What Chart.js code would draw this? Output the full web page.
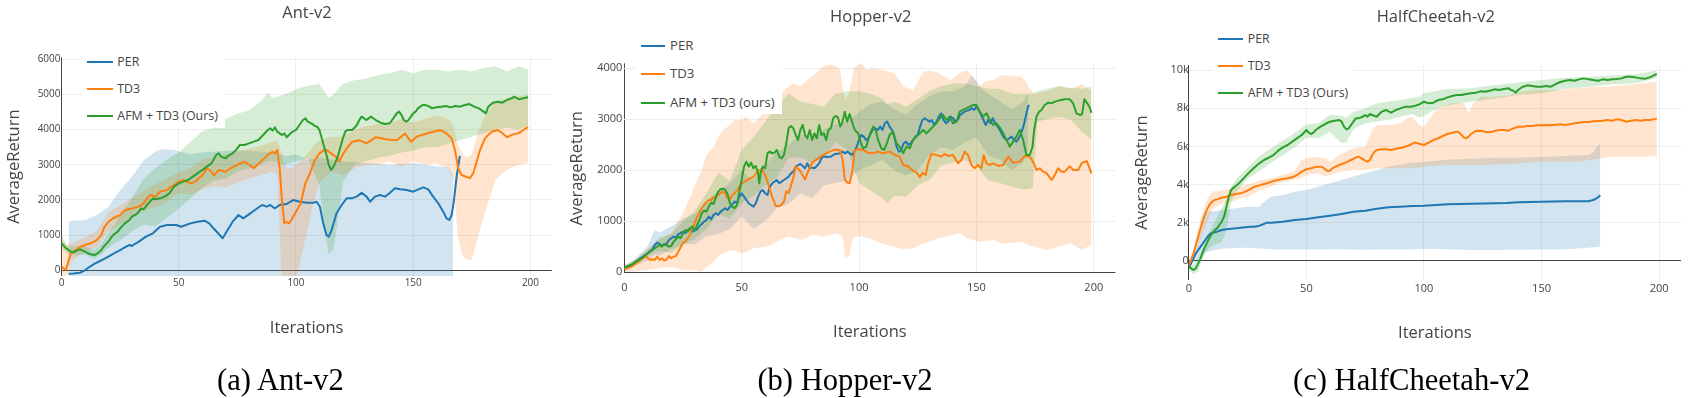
<!DOCTYPE html>
<html><head><meta charset="utf-8">
<script src="https://cdn.jsdelivr.net/npm/chart.js@4.4.1/dist/chart.umd.min.js"></script>
<style>
html,body{margin:0;padding:0;background:#fff;}
body{position:relative;width:1693px;height:398px;overflow:hidden;font-family:"Open Sans",sans-serif;}
.ttl{position:absolute;transform:translate(-50%,-50%);font-size:16.5px;line-height:1;color:#444;white-space:nowrap;}
.cap{position:absolute;transform:translate(-50%,-50%);font-family:"Liberation Serif","Times New Roman",serif;font-size:30.6px;line-height:1;color:#000;white-space:nowrap;}
.legbox{position:absolute;background:#fff;}
.legline{position:absolute;height:2px;}
.legtxt{position:absolute;transform:translateY(-50%);line-height:1;color:#444;white-space:nowrap;}
</style>
</head><body>
<script>
// ---------------- shared ----------------
const seriesNames = ['PER', 'TD3', 'AFM + TD3 (Ours)'];
const seriesNamesHopper = ['PER', 'TD3', 'AFM + TD3 (ours)'];
const xTicks = [0, 50, 100, 150, 200];

// ---------------- Ant-v2 ----------------
const antYTicks = [0, 1000, 2000, 3000, 4000, 5000, 6000];
const antYLabels = ['0', '1000', '2000', '3000', '4000', '5000', '6000'];
const antPerX = [3,5,8,10,12,14,16,18,20,22,25,27,29,30,31,33,36,39,42,45,49,51,55,58,61,63,65,67,68.7,70.4,73,75.5,77.5,80.5,82.5,85.5,87.5,89,91,93,96,98.8,101.6,104.5,107.4,108.8,110.2,111.6,113,114,115.2,117.3,119.5,121.6,123.7,125.9,128,130.1,131.6,133.7,135.8,138,140.1,142.2,144.4,147.2,150,152.2,154.3,156.4,158.5,160.7,162.8,164.2,165.4,166.4,167.3,168.5,169.9];
const antPerY = [-95,-90,-67,0,100,180,250,320,390,470,577,650,720,690,740,814,956,1051,1240,1288,1288,1240,1335,1383,1411,1335,1180,1040,910,1099,1383,1573,1478,1620,1715,1857,1810,1857,1762,1857,1885,1998,1951,1923,1923,1951,1809,1335,1004,956,1146,1620,1857,2046,2046,2094,2207,2094,1951,2094,2141,2094,2207,2330,2302,2283,2236,2302,2359,2302,2094,1904,1667,1478,1430,1573,1951,2662,3250];
const antTd3X = [0,1,2,3,4,5,8,10,13,15,17,18,20,22,25,27,30,33,35,37,38,40,42,45,47,50,52,55,57,60,62,64,65,67,70,72,75,78,80,82,85,88,90,91,92,93,94,95,96,97,98,100,102,104,106,108,110,112,113,115,117,118.5,120,122,124,127,130,134,139,143,146.5,149,151.4,155.7,158.6,161.4,164.2,166.4,167.8,169.2,170.6,174.2,175.6,178.5,180.6,183.4,186,188,190,192,195,197,199];
const antTd3Y = [100,50,20,280,480,520,670,720,785,860,1000,1190,1380,1480,1570,1710,1760,1810,1900,2090,2140,2090,2240,2280,2380,2520,2570,2470,2520,2700,2900,2800,2700,2850,2800,2900,3000,3090,3000,2900,3090,3280,3370,3330,3420,2950,2000,1340,1380,1335,1430,1665,1900,2470,2760,3130,3325,3420,3420,3325,3230,3100,3300,3500,3655,3700,3610,3780,3720,3700,3890,3655,3800,3890,3940,3990,3890,3750,3420,2900,2710,2620,2760,3420,3750,3940,3990,3900,3780,3850,3900,3990,4070];
const antAfmX = [0,2,4,5,7,8,10,12,14,15,17,18,20,22,24,25,27,29,30,32,33,34,35,37,39,40,42,44,46,47,48,50,52,54,56,58,60,62,64,66,67,68,70,71,73,75,76,78,80,82,84,86,88,89,90,91,92,94,95,96,97,98,100,102,103,104,105,107,108,109,110,111,112,113,114,115,116,117,118,119,120,121,122,124,126,127,128,130,131,132,134,136,138,140,141,142,143,144,145,146,147,148,149,150,151,152,153,154,155,157,158,160,162,164,166,168,170,172,174,176,178,180,181,182,184,186,188,190,192,193,195,197,199];
const antAfmY = [766,625,530,510,577,596,530,463,435,463,577,672,815,1004,1098,1193,1335,1430,1525,1600,1667,1761,1733,1904,2046,2018,2046,2094,2188,2283,2378,2473,2520,2567,2662,2757,2852,2947,3042,3279,3326,3231,3184,3250,3326,3468,3563,3563,3610,3658,3705,3847,3989,4037,3970,4065,3942,3847,3894,3781,3847,3914,3990,4180,4273,4320,4226,4160,4103,4083,3990,3752,3515,3279,2995,2852,2947,3090,3279,3515,3752,3942,3990,3990,4132,4273,4368,4273,4320,4368,4273,4197,4160,4180,4273,4368,4463,4510,4415,4273,4226,4273,4368,4463,4510,4605,4652,4700,4700,4652,4605,4633,4652,4670,4633,4670,4652,4700,4728,4652,4605,4510,4463,4652,4766,4795,4766,4842,4890,4937,4865,4890,4920];
const antPerBandX = [3,10,15,20,25,30,35,40,43,48,55,60,70,80,90,96,100,105,110,120,130,140,150,160,165,167];
const antPerHi = [1400,1430,1570,1810,2280,2660,3130,3370,3450,3420,3300,3350,3400,3400,3350,3250,3300,3150,3200,3100,3050,3000,3050,2950,2950,2700];
const antPerLo = [-400,-400,-400,-400,-400,-400,-400,-400,-400,-400,-400,-400,-400,-400,-400,-400,-400,-400,-400,-400,-400,-400,-400,-400,-400,-400];
const antTd3BandX = [0,2,4,6,10,15,20,25,30,35,40,45,50,55,60,65,70,75,80,85,90,92,94,95,96,98,100,102,104,107,110,115,120,125,130,135,140,145,150,155,160,165,167,169,171,173,175,177,180,185,190,195,199];
const antTd3Hi = [1000,700,780,820,950,1100,1650,1850,2050,2250,2450,2600,2800,2900,3150,3200,3300,3400,3450,3550,3650,3700,3300,3000,2900,2900,3000,3100,3250,3500,3700,3800,3800,4000,4100,4150,4200,4300,4200,4300,4400,4300,4100,3600,3300,3200,3300,3800,4300,4800,4900,4950,5000];
const antTd3Lo = [-200,-200,250,350,550,650,1100,1300,1500,1700,1800,1950,2200,2150,2300,2400,2350,2500,2600,2700,2800,2700,-400,-400,-400,-400,-300,300,900,1800,2500,2800,2700,2900,3000,3000,3100,2950,3100,3000,3050,2900,2600,1000,400,300,300,800,1500,2570,2860,3000,3050];
const antAfmBandX = [0,3,6,10,14,17,20,25,30,35,40,45,50,55,60,65,70,75,80,85,88,90,95,100,105,110,112,114,116,118,120,125,130,135,140,145,150,155,160,165,170,175,180,185,190,195,199];
const antAfmHi = [900,700,680,680,580,750,1050,1550,2050,2600,2900,3150,3350,3650,3950,4050,4300,4450,4550,4800,5050,4900,5000,5150,5250,5300,5100,4900,5000,5150,5300,5400,5450,5550,5600,5700,5600,5700,5700,5650,5700,5650,5750,5800,5650,5800,5700];
const antAfmLo = [650,450,430,440,330,450,650,850,1100,1300,1250,1500,1750,2050,2350,2550,2600,2800,2900,3000,3100,3100,3000,3100,3200,2400,1200,450,600,1500,2500,3000,3100,3200,3250,3350,3400,3500,3500,3600,3700,3800,3900,4000,4050,4000,4100];

// ---------------- Hopper-v2 ----------------
const hopYTicks = [0, 1000, 2000, 3000, 4000];
const hopYLabels = ['0', '1000', '2000', '3000', '4000'];
const hopPerX = [0,3,5,8,10,12,13,14,15,16,18,19,20,21,22,23,25,26,27,28,29,31,32,33,34,35,36,37,38,39,40,41,43,44,45,47,48,49,50,51,52,53,54,55,56,57,58,59,60,61,62,63,65,66,67,68,70,71,72,73,75,76,77,78,79,80,81,82,83,84,85,86,87,88,89,90,92,93,94,95,96,97,98,99,100,101,102,103,104,105,106,107,108,109,110,111,112,113,114,115,116,117,118,119,120,121,122,123,124,125,126,127,128,129,130,131,132,133,134,135,136,137,138,139,140,141,142,143,145,146,147,148,149,150,151,152,153,154,155,156,157,158,159,160,161,162,163,164,165,166,167,168,169,170,171,172,172.5];
const hopPerY = [78,144,209,307,373,451,536,582,556,523,556,634,667,700,680,745,797,765,830,863,797,843,908,948,993,1026,1092,1039,1124,1157,1124,1190,1255,1222,1288,1386,1353,1484,1549,1484,1418,1353,1320,1288,1353,1484,1582,1614,1549,1516,1680,1745,1810,1745,1778,1810,1876,1941,1974,2072,2124,2085,2039,2137,2039,2052,2039,2085,2137,2235,2281,2255,2268,2268,2301,2320,2333,2366,2333,2366,2333,2300,2366,2464,2595,2693,2660,2595,2627,2725,2804,2824,2791,2856,2791,2922,2954,2856,2791,2660,2464,2366,2399,2529,2562,2497,2529,2595,2660,2693,2856,2987,3020,2987,2954,2987,2889,2954,3052,3118,2987,2922,2954,3052,3020,2954,2987,3085,3150,3170,3183,3216,3183,3248,3183,3085,2987,2889,2987,2922,3020,2922,2856,2791,2693,2627,2595,2627,2660,2595,2562,2627,2725,2856,3052,3248,3281];
const hopTd3X = [0,3,5,7,8,9,10,11,12,13,14,15,16,17,18,19,20,21,22,23,24,25,26,27,28,29,30,31,32,33,34,35,36,37,38,39,40,41,42,43,44,45,46,47,48,49,50,52,54,55,57,58.5,60,61,62,63,64.5,66,67,68,69,70,71,72,73,74,75,76,77,78,79,80,82,84,86,88,90,91,92,93,94,95,96,97.2,98.2,99.6,101.7,103.8,106,108,110.2,113,115.2,117.3,118.8,120.9,123,124.7,125.9,127,128.4,129.4,130.8,133,135,136.5,137.9,140,142.2,143.6,145,146.4,147.9,149.3,150.7,152.1,153.1,154.3,155.7,157.1,159.2,161.4,163.5,165.6,168.5,170.6,172.7,174.1,175.6,177,178.4,179.8,182,183.4,184.8,186.2,187.6,189.8,191.2,193.3,195,197,199];
const hopTd3Y = [60,111,176,242,275,320,275,242,255,242,307,242,275,229,255,320,275,307,320,405,490,582,601,667,732,863,974,1092,1157,1255,1320,1373,1418,1418,1471,1484,1516,1549,1582,1549,1451,1438,1516,1549,1601,1680,1740,1800,1850,1870,1990,2030,1900,1780,1620,1480,1300,1300,1330,1380,1590,1558,1700,1853,2082,2030,1984,1900,1820,1951,2050,2147,2213,2278,2331,2376,2409,2400,2390,2200,1810,1760,1745,2007,2400,2412,2400,2346,2333,2366,2333,2366,2301,2268,2105,2078,1993,1948,1863,1948,1908,2137,2320,2301,2268,2320,2281,2301,2137,2203,2366,2301,2105,2039,2105,2039,2301,2137,2105,2137,2085,2105,2268,2150,2170,2281,2268,2170,2007,2039,1974,1948,1810,1908,2039,1974,1974,2078,2007,2007,2147,2180,1938];
const hopAfmX = [0,3,5,8,10,12,13,15,16,17,19,20,21,22,23,24,25,26,27,28,29,30,31,32,33,34,35,36,37,38,39,40,41,42,43,44,45,46,47,48,49,50,51,52,53,54,55,56,57,57.5,58,59,60,61,62,63,64,65,66,67,68,69,70,71,72,73,74,75,76,77,78,79,80,81,82,83,84,85,86,87,88,89,90,91,92,93,93.9,94.9,96,97.2,98.2,99.6,100.6,101.7,103.1,104.5,106,107.1,108.1,109.5,110.7,111.6,113,114.5,115.9,117.3,118.8,120.2,121.6,123,124.4,125.9,127.3,128.7,130.1,131.5,133,134.4,135.8,137.2,138.6,140,141.5,142.9,144.3,145.7,147.2,148.6,150,151.4,152.8,154.3,155.7,157.1,158.5,159.9,161.4,162.8,164.2,165.6,167,168.5,169.9,171.3,172.7,173.9,174.6,175.6,176.7,177.7,179.1,180.5,182,183.4,184.8,186.2,187.6,189.8,191.2,192.6,194,195,196,198,199];
const hopAfmY = [100,144,209,294,373,438,471,536,503,556,503,516,601,647,700,667,765,830,797,863,895,830,928,1026,1157,1209,1190,1288,1366,1340,1471,1582,1627,1640,1614,1536,1353,1288,1255,1320,1582,1810,2072,2170,2072,2150,2039,2085,1941,1745,1941,2072,2039,2333,2366,2333,2346,2399,2268,2235,2301,2529,2824,2869,2824,2693,2595,2791,2889,2693,2627,2791,2595,2725,2627,2889,2693,2725,2595,2791,2824,3020,3065,3039,2856,2954,3150,2954,3105,2922,2791,2725,2562,2431,2464,2693,2856,2791,2595,2431,2399,2497,2693,2758,2529,2464,2333,2464,2431,2595,2660,2725,2791,2725,2791,2856,2922,3020,3085,2987,3052,2922,2954,3150,3183,3216,3248,3281,3281,3150,3052,3118,2987,2889,2922,2843,2725,2595,2464,2562,2660,2791,2595,2301,2301,2464,2791,3052,3150,3183,3281,3327,3314,3346,3366,3379,3392,3392,3314,3118,3085,3097,3391,3260,3129];
const hopPerBandX = [0,5,10,13,15,20,25,30,35,40,45,50,55,60,65,70,75,80,85,90,95,100,105,110,115,120,125,130,135,140,145,148,150,152,155,160,165,170,172];
const hopPerHi = [110,280,520,830,780,900,1050,1150,1400,1600,1750,2000,1800,2100,2350,2500,2700,2650,2800,2900,2950,3150,3300,3350,3200,3100,3300,3450,3550,3550,3650,3850,3750,3600,3500,3350,3200,3350,3500];
const hopPerLo = [50,140,230,350,330,450,550,550,700,750,850,1100,850,1000,1250,1350,1550,1450,1700,1750,1800,2000,2100,2200,2000,1900,2000,2300,2450,2400,2550,2600,2650,2500,2300,2200,2000,2150,2400];
const hopTd3BandX = [0,5,10,15,20,25,30,33,35,38,40,42,45,47,50,52,55,58,60,62,65,67,70,72,75,78,80,83,85,88,90,92,93,94,95,96,97,98,100,101,103,106,110,115,119,123,127,130,134,139,143,146,149,151,154,157,161,166,169,171,173,175,180,185,190,195,199];
const hopTd3Hi = [150,242,471,634,765,1157,1680,2007,2301,2464,2660,2791,2889,2987,2987,3052,2922,3052,3183,3281,3379,3510,3641,3706,3641,3771,3837,3967,4046,4072,4040,3967,3641,3379,3450,3575,3800,4033,4066,4120,3967,4000,3967,3902,3641,3575,3902,3967,3902,3771,3902,3967,3810,3641,3745,3771,3869,3837,3837,3745,3575,3500,3550,3650,3600,3690,3550];
const hopTd3Lo = [0,20,46,80,111,46,40,13,111,200,307,380,438,420,373,400,471,490,503,520,601,650,700,680,634,680,732,720,700,730,765,730,700,307,300,320,634,680,700,700,680,634,560,503,450,470,560,601,667,720,765,667,630,601,620,634,560,580,601,560,520,503,438,503,568,438,543];
const hopAfmBandX = [0,5,10,15,20,25,30,35,40,45,50,55,60,65,70,75,80,85,90,95,100,105,110,112,115,120,125,130,135,140,145,150,155,160,165,170,174,176,180,185,190,195,199];
const hopAfmHi = [120,260,430,680,750,1000,1200,1550,1950,1800,2400,2650,2950,3250,3500,3350,3300,3250,3500,3550,3550,3500,3400,3300,3350,3250,3400,3550,3650,3700,3700,3650,3600,3600,3500,3500,3500,3550,3600,3650,3620,3600,3650];
const hopAfmLo = [80,180,330,420,380,550,650,850,1150,1050,1350,1500,1700,1850,2250,2250,2150,2250,2550,2400,1750,1600,1450,1353,1500,1480,1700,1810,2100,2150,2200,2100,1800,1750,1680,1620,1650,2950,3000,3050,3000,2750,2600];

// ---------------- HalfCheetah-v2 ----------------
const hcYTicks = [0, 2000, 4000, 6000, 8000, 10000];
const hcYLabels = ['0', '2k', '4k', '6k', '8k', '10k'];
const hcPerX = [0,1,2,3,4,5,6,7,8,9,10,12,14,16,18,20,22,24,26,28,30,32,33,35,40,45,50,55,60,65,70,75,80,85,90,95,100,110,120,130,135,140,150,160,170,172,174,175];
const hcPerY = [-297,-122,140,401,576,750,925,1099,1274,1413,1483,1536,1623,1658,1693,1710,1745,1762,1797,1797,1850,1937,2007,2007,2059,2146,2199,2286,2373,2460,2583,2635,2740,2809,2844,2879,2897,2967,3001,3019,3036,3071,3106,3124,3124,3193,3333,3438];
const hcTd3X = [0,1,2,3,4,5,6,7,8,9,10,11,12,14,16,18,20,22,24,26,28,30,32,34,36,38,40,42,44,46,47,48,50,52,54,56,57,58,59,60,61,63,65,67,69,71,72,73,75,76,77,78,79,80,82,84,86,88,90,92,94,96,98,100,102,104,106,108,110,112,114,115,116,117,118,119,120,122,124,126,128,130,132,134,136,137,138,140,142,144,146,148,150,152,154,156,158,160,162,164,166,168,170,172,174,176,178,180,182,184,186,188,190,192,194,196,198,199];
const hcTd3Y = [-209,52,401,838,1274,1710,2146,2495,2757,2984,3106,3193,3228,3316,3368,3455,3507,3542,3630,3752,3891,3961,4031,4101,4188,4240,4293,4328,4380,4502,4589,4677,4799,4851,4938,4938,4903,4799,4712,4729,4851,4973,5078,5165,5287,5409,5462,5409,5252,5200,5287,5549,5724,5811,5846,5846,5811,5881,5916,5985,6073,6200,6140,6073,6195,6334,6422,6544,6648,6718,6771,6718,6596,6474,6422,6509,6648,6805,6823,6771,6736,6805,6858,6858,6823,6893,6945,7032,7032,7067,7067,7102,7102,7120,7102,7137,7155,7120,7155,7207,7242,7277,7277,7312,7329,7347,7382,7347,7416,7382,7294,7347,7382,7347,7382,7382,7416,7469];
const hcAfmX = [0,1,2,3,4,5,6,7,8,9,10,11,12,13,14,15,16,17,18,19,20,22,24,26,28,30,32,34,36,38,40,42,44,46,48,50,51,52,53,54,56,58,60,62,64,65,66,67,68,69,70,71,72,74,75,76,77,78,80,81,82,84,86,88,90,92,94,96,98,100,102,104,106,108,110,112,114,116,118,120,122,124,126,128,130,132,134,136,137,138,139,140,142,144,146,148,150,152,154,156,158,160,162,164,166,168,170,172,174,176,178,180,182,184,186,188,190,192,194,196,198,199];
const hcAfmY = [-297,-384,-471,-384,-122,140,489,750,1012,1274,1448,1623,1710,1885,2059,2321,2844,3368,3717,3839,3926,4153,4415,4677,4903,5113,5287,5409,5549,5776,5950,6073,6247,6422,6596,6858,6718,6648,6718,6858,7032,7172,7294,7347,7382,7294,7032,6893,6945,7120,7294,7469,7469,7556,7643,7556,7695,7643,7556,7695,7818,7905,7765,7905,7992,8080,8080,8114,8200,8341,8254,8289,8428,8463,8568,8638,8690,8690,8742,8777,8812,8882,8865,8917,8987,8952,9004,9039,8952,8917,8812,8952,9126,9196,9161,9126,9126,9161,9126,9266,9370,9440,9475,9440,9510,9562,9510,9475,9440,9510,9475,9510,9527,9562,9649,9649,9614,9562,9545,9614,9737,9789];
const hcPerBandX = [2,5,7,10,15,20,25,30,32,35,40,45,50,55,60,65,70,75,80,85,90,95,100,110,120,130,140,150,160,170,172,174,175];
const hcPerHi = [200,1450,2580,2600,2670,2760,2840,2840,3100,3370,3450,3630,3720,3890,4070,4240,4420,4590,4760,4950,5050,5150,5200,5300,5350,5400,5400,5450,5500,5550,5700,6050,6150];
const hcPerLo = [-100,100,450,550,650,680,700,650,640,620,600,610,600,600,610,620,600,590,600,610,600,620,640,620,570,580,590,600,620,700,720,740,750];
const hcTd3BandX = [0,2,3,5,8,10,14,18,20,22,25,30,35,40,45,48,50,55,58,60,65,70,75,78,80,85,90,93,95,98,100,105,111,117,119,121,124,130,137,141,148,154,158,165,173,179,186,193,199];
const hcTd3Hi = [0,500,1200,2200,3300,3630,3700,3800,3850,3900,4000,4200,4350,4500,4700,5287,5375,5462,5375,5200,5636,5898,5985,6858,7120,7120,7207,7469,7556,7120,7032,7905,8254,8254,7730,8254,8603,8603,8690,8865,8952,8952,8952,9039,9126,9126,9214,9301,9388];
const hcTd3Lo = [-500,0,500,1200,2100,2700,3000,3100,3200,3300,3350,3700,3900,4150,4250,4350,4500,4589,4415,4502,4677,4764,4764,4800,4851,4850,4850,4850,4850,4900,4950,5000,5026,5026,5026,5026,5030,5050,5078,5100,5200,5200,5200,5200,5322,5462,5462,5462,5497];
const hcAfmBandX = [0,2,4,6,8,10,12,14,16,18,20,25,30,35,40,45,50,55,60,65,67,70,75,80,85,90,95,98,100,105,110,120,130,140,150,160,170,180,190,199];
const hcAfmHi = [-100,-200,100,700,1300,1800,2300,2800,3200,3900,4250,4900,5500,5900,6300,6700,7150,7207,7643,7600,7500,7818,8000,8254,8350,8428,8550,8603,8777,8900,9000,9039,9200,9350,9475,9600,9649,9700,9780,9964];
const hcAfmLo = [-500,-700,-550,200,600,800,900,1000,1600,3100,3600,4300,4700,5150,5550,5950,6450,6422,6750,6160,6200,6900,7200,7300,7400,7550,7700,7500,7600,7950,8150,8341,8500,8690,8777,9000,9126,9250,9301,9562];

// ---------------- rendering ----------------
const LINE = {per: '#1f77b4', td3: '#ff7f0e', afm: '#2ca02c'};
const FILL = {per: 'rgba(31,119,180,0.2)', td3: 'rgba(255,127,14,0.2)', afm: 'rgba(44,160,44,0.2)'};
Chart.defaults.font.family = "'Open Sans', sans-serif";
Chart.defaults.color = '#444';

function pts(xs, ys) { return xs.map((x, i) => ({x: x, y: ys[i]})); }

function el(cls, css, text) {
  const d = document.createElement('div');
  d.className = cls;
  d.style.cssText = css;
  if (text !== undefined) d.textContent = text;
  document.body.appendChild(d);
  return d;
}

function makePanel(p) {
  const canvas = document.createElement('canvas');
  canvas.width = p.cw; canvas.height = 398;
  canvas.style.cssText = 'position:absolute;top:0;left:' + p.cl + 'px;width:' + p.cw + 'px;height:398px;';
  document.body.appendChild(canvas);

  const line = (label, key, xs, ys) => ({label: label, data: pts(xs, ys), borderColor: LINE[key], backgroundColor: LINE[key],
    borderWidth: 2, pointRadius: 0, fill: false, tension: 0, borderJoinStyle: 'round'});
  const band = (label, key, xs, ys, target) => ({label: label, data: pts(xs, ys), borderColor: 'rgba(0,0,0,0)', borderWidth: 0,
    pointRadius: 0, backgroundColor: FILL[key], fill: target === undefined ? false : target, tension: 0});

  const gridColor = c => (c.tick && c.tick.value === 0) ? '#444' : '#eee';
  const s = p.series;
  new Chart(canvas, {
    type: 'line',
    data: {datasets: [
      line(p.names[2], 'afm', s.afmX, s.afmY),
      line(p.names[1], 'td3', s.td3X, s.td3Y),
      line(p.names[0], 'per', s.perX, s.perY),
      band(p.names[2] + ' hi', 'afm', s.afmBX, s.afmHi, 4),
      band(p.names[2] + ' lo', 'afm', s.afmBX, s.afmLo),
      band(p.names[1] + ' hi', 'td3', s.td3BX, s.td3Hi, 6),
      band(p.names[1] + ' lo', 'td3', s.td3BX, s.td3Lo),
      band(p.names[0] + ' hi', 'per', s.perBX, s.perHi, 8),
      band(p.names[0] + ' lo', 'per', s.perBX, s.perLo)
    ]},
    options: {
      responsive: false, animation: false, devicePixelRatio: 1, events: [],
      layout: {padding: {left: p.padL, right: p.padR, top: p.padT, bottom: p.padB}},
      plugins: {legend: {display: false}, tooltip: {enabled: false}, title: {display: false}},
      scales: {
        x: {
          type: 'linear', min: 0, max: p.xMax,
          afterBuildTicks: sc => { sc.ticks = xTicks.map(v => ({value: v})); },
          afterFit: sc => { sc.height = p.hx; },
          ticks: {autoSkip: false, maxRotation: 0, padding: p.xPad, color: '#444', font: {size: p.tick},
                  callback: v => String(v)},
          grid: {color: gridColor, lineWidth: 1, drawTicks: false},
          border: {display: false},
          title: {display: true, text: 'Iterations', color: '#444', font: {size: 16.5}, padding: 0}
        },
        y: {
          type: 'linear', min: p.yMin, max: p.yMax,
          afterBuildTicks: sc => { sc.ticks = p.yTicks.map(v => ({value: v})); },
          afterFit: sc => { sc.width = p.wy; },
          ticks: {autoSkip: false, padding: p.yPad, color: '#444', font: {size: p.tick},
                  callback: (v, i) => p.yLabels[i]},
          grid: {color: gridColor, lineWidth: 1, drawTicks: false},
          border: {display: false},
          title: {display: true, text: 'AverageReturn', color: '#444', font: {size: 16.5}, padding: 0}
        }
      }
    }
  });

  // chart title, legend and caption
  el('ttl', 'left:' + p.title[1] + 'px;top:' + p.title[2] + 'px;', p.title[0]);
  const b = p.leg.box;
  el('legbox', 'left:' + b[0] + 'px;top:' + b[1] + 'px;width:' + b[2] + 'px;height:' + b[3] + 'px;');
  const keys = ['per', 'td3', 'afm'];
  keys.forEach((k, i) => {
    const y = p.leg.rows[i];
    el('legline', 'left:' + p.leg.lx + 'px;width:' + p.leg.lw + 'px;top:' + (y - 1) + 'px;background:' + LINE[k] + ';');
    el('legtxt', 'left:' + p.leg.tx + 'px;top:' + y + 'px;font-size:' + p.leg.font + 'px;', p.names[i]);
  });
  el('cap', 'left:' + p.cap[1] + 'px;top:' + p.cap[2] + 'px;', p.cap[0]);
}

makePanel({
  cl: 0, cw: 564, padL: 4.4, wy: 57.1, padR: 12.2, padT: 57.3, hx: 62.2, padB: 59.8,
  xMax: 209.1, yMin: -162, yMax: 6056, yTicks: antYTicks, yLabels: antYLabels, tick: 10, xPad: 1.3, yPad: 1,
  names: seriesNames,
  series: {perX: antPerX, perY: antPerY, td3X: antTd3X, td3Y: antTd3Y, afmX: antAfmX, afmY: antAfmY,
           perBX: antPerBandX, perHi: antPerHi, perLo: antPerLo, td3BX: antTd3BandX, td3Hi: antTd3Hi, td3Lo: antTd3Lo,
           afmBX: antAfmBandX, afmHi: antAfmHi, afmLo: antAfmLo},
  title: ['Ant-v2', 307, 11.7],
  leg: {box: [82, 48, 143, 80], rows: [61.7, 89, 115.7], lx: 87.3, lw: 25.4, tx: 117.3, font: 12.4},
  cap: ['(a) Ant-v2', 280.4, 380]
});
makePanel({
  cl: 564, cw: 566, padL: 3.2, wy: 57.1, padR: 14.6, padT: 63.3, hx: 68.9, padB: 55.8,
  xMax: 209.2, yMin: -19.6, yMax: 4098, yTicks: hopYTicks, yLabels: hopYLabels, tick: 11, xPad: 8.4, yPad: 2,
  names: seriesNamesHopper,
  series: {perX: hopPerX, perY: hopPerY, td3X: hopTd3X, td3Y: hopTd3Y, afmX: hopAfmX, afmY: hopAfmY,
           perBX: hopPerBandX, perHi: hopPerHi, perLo: hopPerLo, td3BX: hopTd3BandX, td3Hi: hopTd3Hi, td3Lo: hopTd3Lo,
           afmBX: hopAfmBandX, afmHi: hopAfmHi, afmLo: hopAfmLo},
  title: ['Hopper-v2', 870.7, 16],
  leg: {box: [636, 32, 146, 82], rows: [46, 74.3, 102.7], lx: 641, lw: 24, tx: 670, font: 13.2},
  cap: ['(b) Hopper-v2', 845, 380]
});
makePanel({
  cl: 1130, cw: 563, padL: 2.8, wy: 56, padR: 12, padT: 65, hx: 63.2, padB: 54.8,
  xMax: 209.3, yMin: -995, yMax: 10262, yTicks: hcYTicks, yLabels: hcYLabels, tick: 11, xPad: 2.4, yPad: 0,
  names: seriesNames,
  series: {perX: hcPerX, perY: hcPerY, td3X: hcTd3X, td3Y: hcTd3Y, afmX: hcAfmX, afmY: hcAfmY,
           perBX: hcPerBandX, perHi: hcPerHi, perLo: hcPerLo, td3BX: hcTd3BandX, td3Hi: hcTd3Hi, td3Lo: hcTd3Lo,
           afmBX: hcAfmBandX, afmHi: hcAfmHi, afmLo: hcAfmLo},
  title: ['HalfCheetah-v2', 1435.8, 16],
  leg: {box: [1213, 25, 140, 82], rows: [39, 66, 93.3], lx: 1218.3, lw: 24.4, tx: 1247.7, font: 12.4},
  cap: ['(c) HalfCheetah-v2', 1411.5, 380]
});
</script>
</body></html>
